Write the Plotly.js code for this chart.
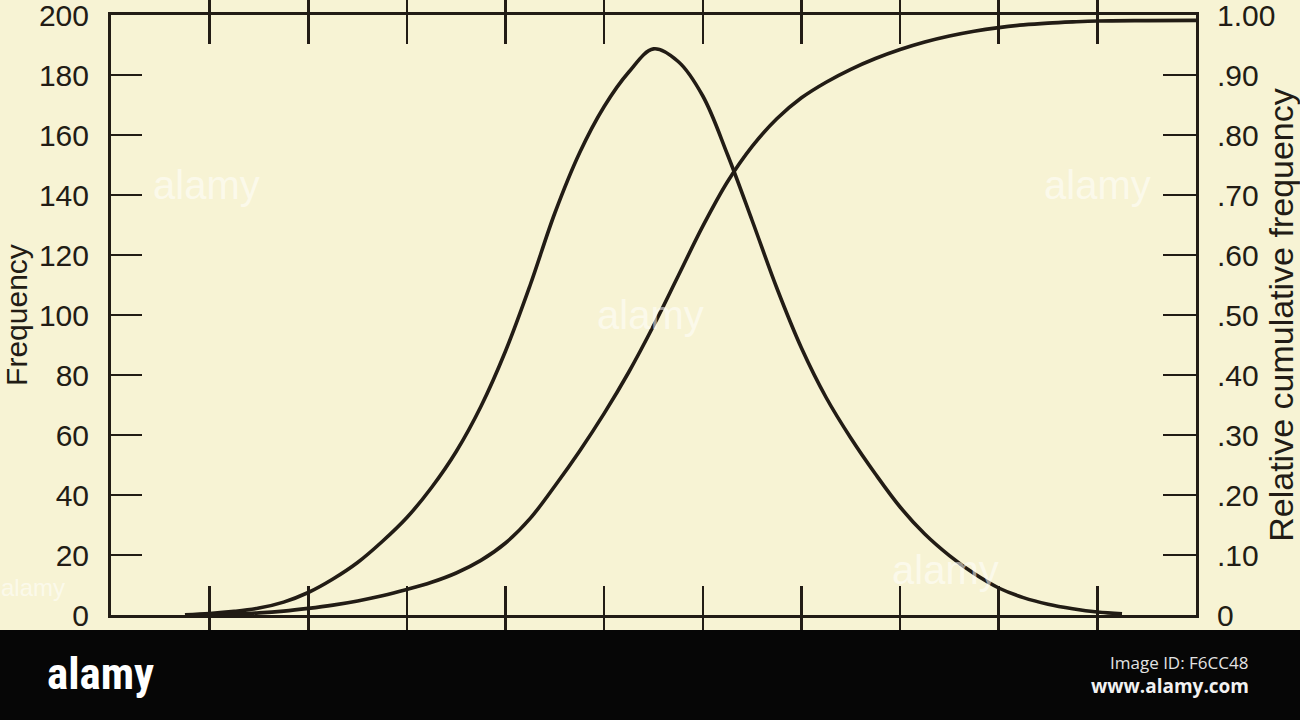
<!DOCTYPE html>
<html>
<head>
<meta charset="utf-8">
<script src="https://cdn.plot.ly/plotly-3.0.1.min.js"></script>
<style>
  html, body { margin: 0; padding: 0; background: #f7f3d4; }
  #chart { width: 1300px; height: 720px; }
</style>
</head>
<body>
<div id="chart"></div>
<script>
// ---- data ----
const gridX = [0.75, 1.00, 1.25, 1.50, 1.75, 2.00, 2.25, 2.50, 2.75, 3.00, 3.25, 3.50, 3.75, 4.00, 4.25, 4.50, 4.75, 5.00, 5.25, 5.50, 5.75, 6.00, 6.25, 6.50, 6.75, 7.00, 7.25, 7.50, 7.75, 8.00, 8.25, 8.50, 8.75, 9.00, 9.25, 9.50, 9.75, 10.00];

const frequency = [0.1, 0.5, 1.2, 2.3, 4.3, 7.5, 12.0, 17.5, 24.5, 32.5, 42.5, 54.5, 69.5, 88, 110, 134, 154, 169.5, 181, 188.7, 184.5, 173, 153.5, 131.5, 109, 89, 72.5, 59, 47, 36, 27, 19.8, 13.8, 9.0, 5.8, 3.6, 2.1, 1.0];
const freqTailX = [10.25];
const freqTailY = [0.4];

const cumulative = [0, 0.0008, 0.0018, 0.0035, 0.0065, 0.0110, 0.0165, 0.0235, 0.0320, 0.0425, 0.0545, 0.070, 0.091, 0.120, 0.161, 0.215, 0.273, 0.336, 0.405, 0.482, 0.565, 0.648, 0.722, 0.781, 0.827, 0.862, 0.888, 0.9095, 0.9275, 0.9425, 0.955, 0.965, 0.973, 0.979, 0.9835, 0.9865, 0.9885, 0.990];
const cumTailX = [10.5, 11.0];
const cumTailY = [0.9907, 0.991];

const xTicks = [1, 2, 3, 4, 5, 6, 7, 8, 9, 10];
const leftTickVals = [0, 20, 40, 60, 80, 100, 120, 140, 160, 180, 200];
const rightTickVals = [0, 0.1, 0.2, 0.3, 0.4, 0.5, 0.6, 0.7, 0.8, 0.9, 1.0];
const rightTickText = ["0", ".10", ".20", ".30", ".40", ".50", ".60", ".70", ".80", ".90", "1.00"];

const leftTitle = "Frequency";
const rightTitle = "Relative cumulative frequency";

// ---- style ----
const ink = "#221c15";
const bg = "#f7f3d4";
const fontFam = "Liberation Sans, Arial, sans-serif";

const traces = [
  {
    x: gridX.concat(freqTailX), y: frequency.concat(freqTailY), type: "scatter", mode: "lines",
    line: { color: ink, width: 3.6, shape: "spline", smoothing: 1 },
    yaxis: "y", hoverinfo: "skip", showlegend: false
  },
  {
    x: gridX.concat(cumTailX), y: cumulative.concat(cumTailY), type: "scatter", mode: "lines",
    line: { color: ink, width: 3.6, shape: "spline", smoothing: 1 },
    yaxis: "y2", hoverinfo: "skip", showlegend: false
  }
];

const L = 111, T = 15, W = 1085, H = 600;
function px(x) { return (x - L) / W; }
function py(y) { return (T + H - y) / H; }

// faint watermark positions (page pixels) and sizes
const wmPos = [[206, 185, 40], [650, 315, 40], [1097, 185, 40], [945, 570, 40], [33, 587, 24]];
const watermarks = wmPos.map(p => ({
  text: "alamy", xref: "paper", yref: "paper",
  x: px(p[0]), y: py(p[1]), xanchor: "center", yanchor: "middle",
  showarrow: false,
  font: { family: "Liberation Sans Narrow, Liberation Sans, sans-serif", size: p[2], color: "rgba(255,255,255,0.55)" }
}));

const layout = {
  width: 1300, height: 720,
  margin: { l: L, r: 1300 - L - W, t: T, b: 720 - T - H, pad: 0 },
  paper_bgcolor: bg, plot_bgcolor: bg,
  showlegend: false,
  xaxis: {
    range: [0, 11], tickvals: xTicks, showticklabels: false,
    ticks: "inside", ticklen: 29, tickwidth: 2.5, tickcolor: ink,
    showline: true, linecolor: ink, linewidth: 3, mirror: "allticks",
    showgrid: false, zeroline: false, fixedrange: true
  },
  yaxis: {
    range: [0, 200], tickvals: leftTickVals,
    ticks: "inside", ticklen: 31, tickwidth: 2.5, tickcolor: ink,
    showline: true, linecolor: ink, linewidth: 3,
    showgrid: false, zeroline: false,
    tickfont: { family: fontFam, size: 30, color: ink },
    ticklabelstandoff: 13, ticklabeloverflow: "allow",
    title: { text: leftTitle, font: { family: fontFam, size: 30, color: ink }, standoff: 6 },
    fixedrange: true
  },
  yaxis2: {
    range: [0, 1], overlaying: "y", side: "right",
    tickvals: rightTickVals, ticktext: rightTickText,
    ticks: "inside", ticklen: 33, tickwidth: 2.5, tickcolor: ink,
    showline: true, linecolor: ink, linewidth: 3,
    showgrid: false, zeroline: false,
    tickfont: { family: fontFam, size: 30, color: ink },
    ticklabelstandoff: 12, ticklabeloverflow: "allow",
    title: { text: rightTitle, font: { family: fontFam, size: 34, color: ink }, standoff: 5 },
    fixedrange: true
  },
  shapes: [
    {
      type: "rect", xref: "paper", yref: "paper",
      x0: px(0), x1: px(1300), y0: py(720), y1: py(630),
      fillcolor: "#060606", line: { width: 0 }, layer: "above"
    }
  ],
  annotations: watermarks.concat([
    {
      text: "<b>alamy</b>", xref: "paper", yref: "paper",
      x: px(100), y: py(673), xanchor: "center", yanchor: "middle",
      showarrow: false,
      font: { family: "Liberation Sans Narrow, Roboto Condensed, Liberation Sans, sans-serif", size: 45, color: "#ffffff" }
    },
    {
      text: "Image ID: F6CC48", xref: "paper", yref: "paper",
      x: px(1250), y: py(662), xanchor: "right", yanchor: "middle",
      showarrow: false,
      font: { family: "Open Sans, Noto Sans, sans-serif", size: 17, color: "#e2e2e2" }
    },
    {
      text: "<b>www.alamy.com</b>", xref: "paper", yref: "paper",
      x: px(1251), y: py(686), xanchor: "right", yanchor: "middle",
      showarrow: false,
      font: { family: "Open Sans, Noto Sans, sans-serif", size: 19, color: "#f2f2f2" }
    }
  ])
};

Plotly.newPlot("chart", traces, layout, { staticPlot: true, displayModeBar: false });
</script>
</body>
</html>
